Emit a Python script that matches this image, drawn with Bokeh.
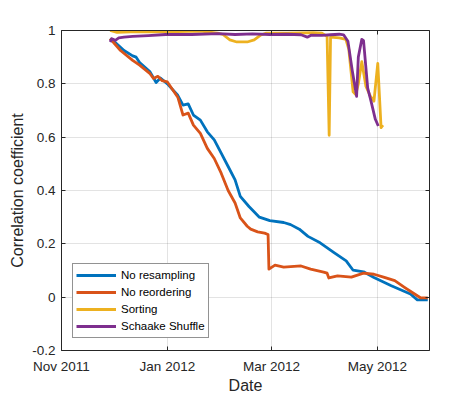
import pandas as pd
from bokeh.plotting import figure
from bokeh.models import Range1d, FixedTicker, DatetimeAxis, LinearAxis
from bokeh.embed import file_html
from bokeh.resources import INLINE

# ---------------- data (days since 1 Nov 2011) ----------------
origin = "2011-11-01"

blue_days = [28, 31, 36, 41, 43, 45, 51, 54.5, 57, 61, 67, 70, 73, 76, 80, 84, 88, 92, 96, 100, 103,
             108, 114, 120, 128, 132, 137, 142, 149, 157, 164, 168, 174, 180, 190, 201, 205, 211]
blue_vals = [0.97, 0.955, 0.925, 0.905, 0.9, 0.88, 0.845, 0.805, 0.822, 0.80, 0.757, 0.72, 0.725, 0.683,
             0.664, 0.62, 0.59, 0.54, 0.49, 0.44, 0.378, 0.34, 0.30, 0.287, 0.28, 0.272, 0.255, 0.228,
             0.204, 0.167, 0.136, 0.101, 0.095, 0.074, 0.043, 0.012, -0.01, -0.01]

orange_days = [28, 34, 41, 45, 51, 53, 55.5, 58, 61, 67, 70, 73, 76, 80, 84, 88, 92, 96, 100, 103, 107,
               109, 113, 117, 119, 119.5, 123, 128, 138, 143.5, 151, 153, 154, 159, 167, 174, 180, 186,
               192, 197.6, 203.4, 207, 211]
orange_vals = [0.97, 0.925, 0.888, 0.87, 0.838, 0.82, 0.828, 0.812, 0.807, 0.75, 0.683, 0.69, 0.645,
               0.614, 0.558, 0.52, 0.465, 0.40, 0.353, 0.297, 0.266, 0.255, 0.245, 0.24, 0.235, 0.105,
               0.12, 0.113, 0.117, 0.105, 0.094, 0.09, 0.072, 0.08, 0.075, 0.09, 0.086, 0.074, 0.062,
               0.037, 0.012, -0.003, -0.003]

yellow_days = [28, 32, 40, 60, 80, 90, 93, 97, 101, 107, 111, 114.5, 118, 130, 145, 150, 153, 154.2,
               155, 160, 163.8, 165.5, 168, 169.5, 171, 173, 175.4, 178, 180, 182.2, 184.1, 185.2]
yellow_vals = [1.0, 0.993, 0.995, 0.995, 0.998, 0.99, 0.985, 0.965, 0.957, 0.957, 0.965, 0.982, 0.99,
               0.99, 0.992, 0.99, 0.978, 0.607, 0.975, 0.972, 0.967, 0.93, 0.77, 0.76, 0.8, 0.883,
               0.79, 0.753, 0.735, 0.877, 0.636, 0.645]

purple_days = [28, 29, 31, 33, 36, 41, 50, 60, 75, 90, 100, 110, 120, 130, 138, 141.6, 144, 150, 155,
               160, 162.5, 165, 167.5, 170, 171, 173, 174, 176.4, 178.3, 180.8, 182.5]
purple_vals = [0.957, 0.969, 0.963, 0.972, 0.975, 0.978, 0.981, 0.985, 0.985, 0.988, 0.985, 0.987,
               0.985, 0.986, 0.984, 0.975, 0.983, 0.982, 0.984, 0.986, 0.984, 0.96, 0.85, 0.753,
               0.901, 0.967, 0.962, 0.784, 0.735, 0.667, 0.642]

series_names = ["No resampling", "No reordering", "Sorting", "Schaake Shuffle"]
series_colors = ["#0072BD", "#D95319", "#EDB120", "#7E2F8E"]

x_tick_dates = ["2011-11-01", "2012-01-01", "2012-03-01", "2012-05-01"]
x_tick_labels = ["Nov 2011", "Jan 2012", "Mar 2012", "May 2012"]
y_ticks = [-0.2, 0, 0.2, 0.4, 0.6, 0.8, 1]
y_tick_labels = ["-0.2", "0", "0.2", "0.4", "0.6", "0.8", "1"]

x_start, x_end = "2011-11-01", "2012-05-31"
y_start, y_end = -0.2, 1.0

# ---------------- helpers ----------------
o = pd.Timestamp(origin)
def to_dates(days):
    return [o + pd.Timedelta(days=d) for d in days]

def ms(d):
    return pd.Timestamp(d).timestamp() * 1000.0

FONT = "Liberation Sans"
AX = "#262626"

p = figure(width=474, height=396, x_axis_type="datetime",
           x_range=Range1d(pd.Timestamp(x_start), pd.Timestamp(x_end)),
           y_range=Range1d(y_start, y_end),
           output_backend="svg", toolbar_location=None,
           min_border_left=61, min_border_right=45, min_border_top=30, min_border_bottom=44)
p.outline_line_color = None
p.background_fill_color = "white"

x_ticks = [ms(d) for d in x_tick_dates]
xt = FixedTicker(ticks=x_ticks)
yt = FixedTicker(ticks=y_ticks)

p.xaxis.ticker = xt
p.yaxis.ticker = yt
p.xaxis.major_label_overrides = {t: l for t, l in zip(x_ticks, x_tick_labels)}
p.yaxis.major_label_overrides = {t: l for t, l in zip(y_ticks, y_tick_labels)}

for ax in (p.xaxis[0], p.yaxis[0]):
    ax.major_tick_in = 4
    ax.major_tick_out = 0
    ax.minor_tick_line_color = None
    ax.axis_line_color = AX
    ax.major_tick_line_color = AX
    ax.major_label_text_font = FONT
    ax.major_label_text_font_size = "13.5px"
    ax.major_label_text_color = AX
    ax.axis_label_text_font = FONT
    ax.axis_label_text_font_size = "16px"
    ax.axis_label_text_font_style = "normal"
    ax.axis_label_text_color = AX

p.xaxis.axis_label = "Date"
p.yaxis.axis_label = "Correlation coefficient"
p.xaxis.major_label_standoff = 8
p.xaxis.axis_label_standoff = 0
p.yaxis.major_label_standoff = 6
p.yaxis.axis_label_standoff = 3

# box axes (top/right) with inward ticks, no labels
top = DatetimeAxis(ticker=xt)
right = LinearAxis(ticker=yt)
for ax in (top, right):
    ax.major_tick_in = 4
    ax.major_tick_out = 0
    ax.minor_tick_line_color = None
    ax.axis_line_color = AX
    ax.major_tick_line_color = AX
    ax.major_label_text_font_size = "0px"
    ax.major_label_text_alpha = 0
    ax.major_label_standoff = 0
p.add_layout(top, "above")
p.add_layout(right, "right")

p.xgrid.ticker = xt
p.ygrid.ticker = yt
p.grid.grid_line_color = AX
p.grid.grid_line_alpha = 0.13

all_days = [blue_days, orange_days, yellow_days, purple_days]
all_vals = [blue_vals, orange_vals, yellow_vals, purple_vals]
for d, v, name, c in zip(all_days, all_vals, series_names, series_colors):
    p.line(to_dates(d), v, line_color=c, line_width=2.8, legend_label=name, line_join="round")

lg = p.legend[0]
lg.location = (11, 12)
lg.border_line_color = AX
lg.border_line_width = 1
lg.background_fill_color = "white"
lg.background_fill_alpha = 1
lg.label_text_font = FONT
lg.label_text_font_size = "11.5px"
lg.label_text_color = "black"
lg.glyph_width = 40
lg.glyph_height = 16
lg.label_height = 16
lg.label_standoff = 5
lg.spacing = 1
lg.padding = 3
lg.margin = 0

open("out.html", "w").write(file_html(p, INLINE))
